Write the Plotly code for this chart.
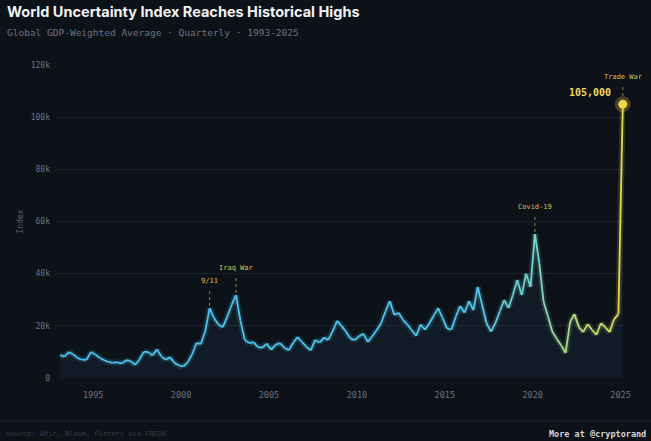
import plotly.graph_objects as go

# ---- data ----
start_year = 1993
values_k = [
    8.8, 8.2, 10.0, 9.0, 7.6, 7.0, 7.0, 10.0, 9.0, 7.8,
    6.8, 6.2, 5.8, 6.1, 5.5, 6.8, 6.6, 5.0, 7.0, 10.0,
    10.0, 8.6, 11.0, 8.3, 7.0, 8.0, 5.8, 4.8, 4.4, 6.0,
    9.0, 13.5, 13.0, 18.0, 26.8, 23.0, 20.5, 19.5, 23.5, 28.0,
    31.8, 22.0, 14.6, 13.4, 13.8, 11.8, 11.6, 13.2, 10.8, 12.8,
    13.4, 11.6, 10.6, 13.5, 15.7, 13.8, 12.0, 10.6, 14.6, 13.6,
    15.5, 14.6, 18.0, 21.9, 20.0, 17.8, 15.2, 14.5, 16.0, 17.0,
    13.8, 16.0, 18.3, 21.0, 25.5, 29.5, 24.2, 25.0, 22.3, 20.5,
    18.3, 16.2, 20.5, 18.5, 21.0, 24.0, 26.8, 23.0, 19.0, 18.5,
    23.5, 27.6, 25.0, 29.5, 26.0, 34.9, 28.0, 21.0, 17.8, 21.0,
    25.5, 29.9, 26.8, 32.0, 37.6, 31.8, 40.0, 34.9, 55.2, 44.0,
    29.0, 23.5, 17.6, 15.0, 12.5, 9.6, 21.5, 24.5, 19.5, 17.6,
    20.7, 18.5, 16.5, 21.0, 19.5, 17.6, 22.5, 24.5, 105.0,
]
values = [v * 1000 for v in values_k]
x_years = [start_year + i * 0.25 + 0.125 for i in range(len(values))]

events = ["9/11", "Iraq War", "Covid-19", "Trade War"]
event_idx = [34, 40, 108, 128]

x_ticks = [1995, 2000, 2005, 2010, 2015, 2020, 2025]
y_ticks = [0, 20000, 40000, 60000, 80000, 100000, 120000]
y_ticktext = ["0", "20k", "40k", "60k", "80k", "100k", "120k"]

BG = "#0d1118"
MONO = "DejaVu Sans Mono"

stops = [(0.0, (76, 195, 238)), (0.74, (82, 198, 236)), (0.84, (116, 212, 206)),
         (0.90, (170, 218, 140)), (0.97, (205, 220, 105)), (1.0, (232, 216, 78))]


def col(t, a=1.0):
    for (t0, c0), (t1, c1) in zip(stops[:-1], stops[1:]):
        if t <= t1:
            f = (t - t0) / (t1 - t0) if t1 > t0 else 0
            c = [round(c0[k] + (c1[k] - c0[k]) * f) for k in range(3)]
            return f"rgba({c[0]},{c[1]},{c[2]},{a})"
    c = stops[-1][1]
    return f"rgba({c[0]},{c[1]},{c[2]},{a})"


fig = go.Figure()

# area fill
fig.add_trace(go.Scatter(x=x_years, y=values, mode="lines", line=dict(width=0),
                         fill="tozeroy", fillcolor="rgba(70,170,210,0.07)",
                         hoverinfo="skip", showlegend=False))

n = len(values)
for glow in (True, False):
    for i in range(n - 1):
        t = (i + 0.5) / (n - 1)
        fig.add_trace(go.Scatter(
            x=x_years[i:i + 2], y=values[i:i + 2], mode="lines",
            line=dict(color=col(t, 0.16 if glow else 1.0), width=6 if glow else 1.8),
            hoverinfo="skip", showlegend=False))

# final point
fig.add_trace(go.Scatter(x=[x_years[-1]], y=[values[-1]], mode="markers",
                         marker=dict(size=16, color="rgba(242,214,75,0.25)"),
                         showlegend=False, hoverinfo="skip", cliponaxis=False))
fig.add_trace(go.Scatter(x=[x_years[-1]], y=[values[-1]], mode="markers",
                         marker=dict(size=9, color="#f2d64b"),
                         showlegend=False, hoverinfo="skip", cliponaxis=False))

annotations = []
shapes = []
ypx = 120000 / 313.0  # value per pixel
for name, idx in zip(events, event_idx):
    xv = x_years[idx]
    yv = values[idx]
    top = yv + 20 * ypx if idx != 128 else yv + 20 * ypx
    shapes.append(dict(type="line", xref="x", yref="y", x0=xv, x1=xv,
                       y0=yv + 2 * ypx, y1=top,
                       line=dict(color="rgba(200,180,90,0.7)", width=1, dash="dot")))
    annotations.append(dict(x=xv, y=top, xref="x", yref="y", text=name,
                            showarrow=False, yanchor="bottom", yshift=1,
                            font=dict(family=MONO, size=7, color="#d9c45e")))

annotations.append(dict(x=x_years[-1], y=values[-1], xref="x", yref="y",
                        text="<b>105,000</b>", showarrow=False, xanchor="right",
                        xshift=-10, yshift=12,
                        font=dict(family=MONO, size=10, color="#f0d860")))

# titles / footer (paper coords: plot top=65px, bottom=378px)
def py(p):
    return (378 - p) / 313.0


def px(p):
    return (p - 58) / 567.0


annotations += [
    dict(x=px(5), y=py(12), xref="paper", yref="paper", xanchor="left", yanchor="middle",
         text="<b>World Uncertainty Index Reaches Historical Highs</b>", showarrow=False,
         font=dict(family="Inter", size=14.5, color="#f2f2f2")),
    dict(x=px(5), y=py(32), xref="paper", yref="paper", xanchor="left", yanchor="middle",
         text="Global GDP-Weighted Average · Quarterly · 1993-2025", showarrow=False,
         font=dict(family=MONO, size=9.5, color="#6e7480")),
    dict(x=px(13), y=py(222), xref="paper", yref="paper", textangle=-90,
         text="Index", showarrow=False,
         font=dict(family=MONO, size=8, color="#5c6270")),
    dict(x=px(4), y=py(434), xref="paper", yref="paper", xanchor="left", yanchor="middle",
         text="Source: Ahir, Bloom, Furceri via FRED®", showarrow=False,
         font=dict(family=MONO, size=7, color="#363c48")),
    dict(x=px(648), y=py(434), xref="paper", yref="paper", xanchor="right", yanchor="middle",
         text="<b>More at @cryptorand</b>", showarrow=False,
         font=dict(family=MONO, size=8.5, color="#d4d6da")),
]
shapes.append(dict(type="line", xref="paper", yref="paper", x0=px(0), x1=px(651),
                   y0=py(421), y1=py(421), line=dict(color="#1c222c", width=1)))

fig.update_layout(
    width=651, height=441,
    margin=dict(l=58, r=26, t=65, b=63),
    paper_bgcolor=BG, plot_bgcolor=BG,
    showlegend=False,
    annotations=annotations, shapes=shapes,
    xaxis=dict(range=[1993.0, 2025.25], tickvals=x_ticks, showgrid=False,
               zeroline=False, showline=False, ticks="", ticklabelstandoff=10,
               tickfont=dict(family=MONO, size=8.5, color="#6e7480")),
    yaxis=dict(range=[0, 120000], tickvals=y_ticks, ticktext=y_ticktext,
               showgrid=True, gridcolor="#1b212b", gridwidth=1, zeroline=False,
               showline=False, ticks="", ticklabelstandoff=7,
               tickfont=dict(family=MONO, size=8, color="#6e7480")),
)

fig.write_html("out.html")
